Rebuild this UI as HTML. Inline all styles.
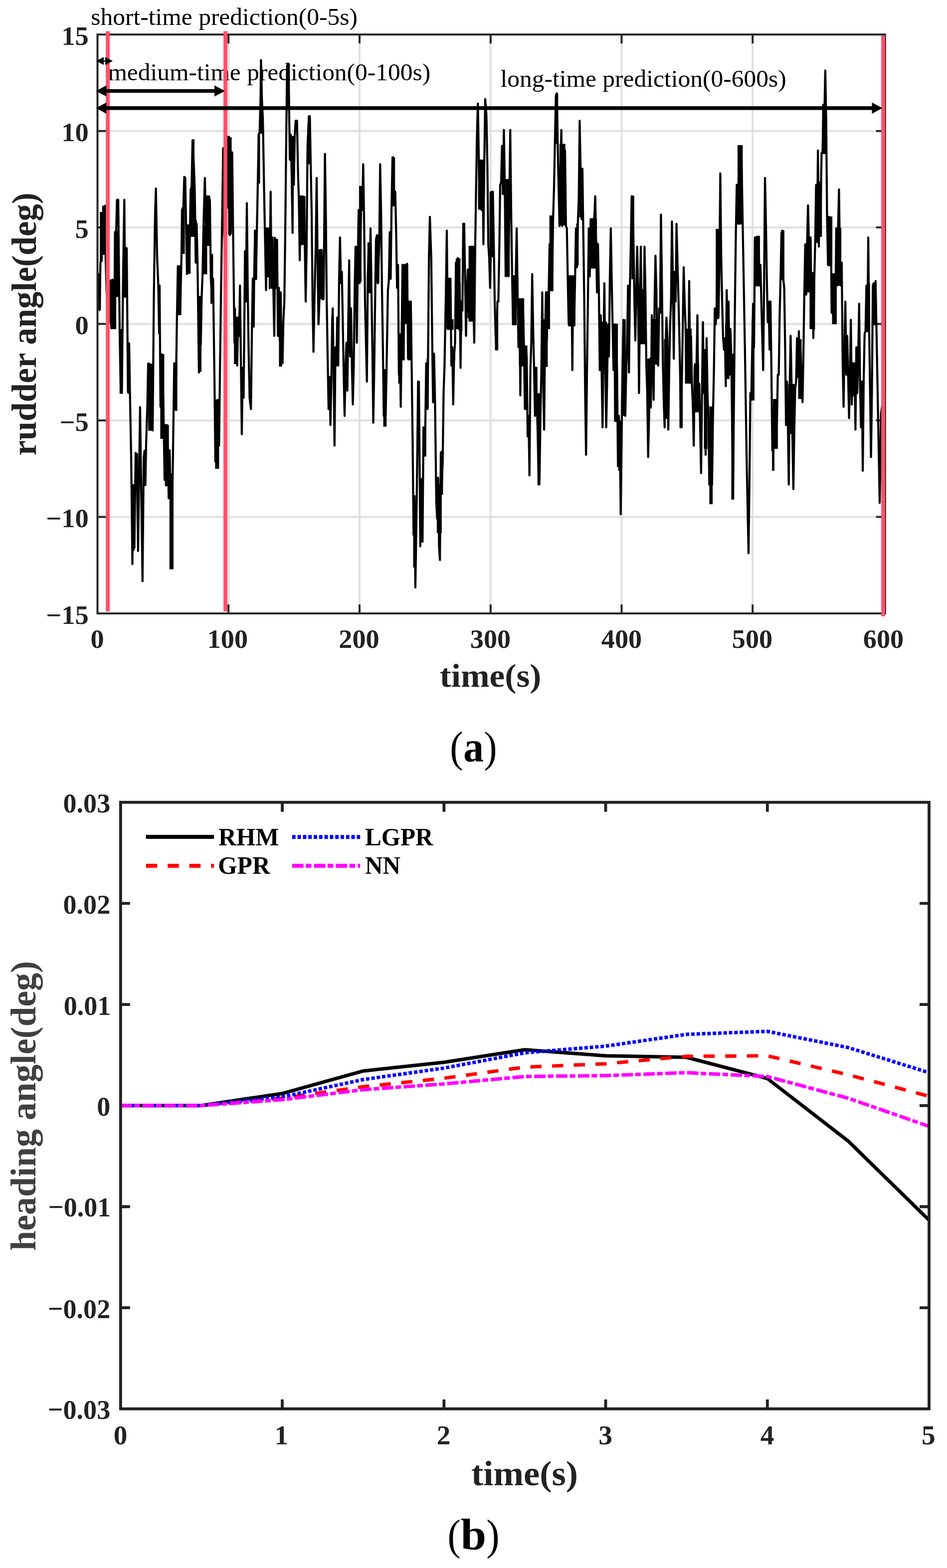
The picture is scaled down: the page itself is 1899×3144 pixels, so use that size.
<!DOCTYPE html>
<html><head><meta charset="utf-8"><title>figure</title>
<style>html,body{margin:0;padding:0;background:#fff;width:1899px;height:3144px;overflow:hidden;}svg{display:block;}</style>
</head><body>
<svg width="1899" height="3144" viewBox="0 0 1899 3144">
<rect width="1899" height="3144" fill="#fff"/>
<path d="M458.2 69.2V1230M721.0 69.2V1230M983.8 69.2V1230M1246.5 69.2V1230M1509.2 69.2V1230M195.5 1036.5H1774.8M195.5 843.1H1774.8M195.5 649.6H1774.8M195.5 456.1H1774.8M195.5 262.7H1774.8" stroke="#e0e0e0" stroke-width="4" fill="none"/>
<path d="M458.2 1230v-18M458.2 69.2v18M721.0 1230v-18M721.0 69.2v18M983.8 1230v-18M983.8 69.2v18M1246.5 1230v-18M1246.5 69.2v18M1509.2 1230v-18M1509.2 69.2v18M195.5 1036.5h18M1774.8 1036.5h-18M195.5 843.1h18M1774.8 843.1h-18M195.5 649.6h18M1774.8 649.6h-18M195.5 456.1h18M1774.8 456.1h-18M195.5 262.7h18M1774.8 262.7h-18" stroke="#262626" stroke-width="4" fill="none"/>
<text transform="translate(0.16,0.41) scale(0.9900,0.9820) translate(184.00,50.50)" style="font-family:'Liberation Serif','Times New Roman',serif;font-size:50px" fill="#000">short-time prediction(0-5s)</text>
<text transform="translate(1.80,3.39) scale(0.9890,0.9820) translate(217.00,160.50)" style="font-family:'Liberation Serif','Times New Roman',serif;font-size:50px" fill="#000">medium-time prediction(0-100s)</text>
<text transform="translate(9.55,3.14) scale(0.9900,0.9820) translate(1004.00,174.40)" style="font-family:'Liberation Serif','Times New Roman',serif;font-size:50px" fill="#000">long-time prediction(0-600s)</text>
<polyline points="196.5,619.6 198.1,550.6 199.7,621.6 201.4,526.3 203.8,522.2 204.6,428.9 207.0,424.8 208.7,414.7 211.1,412.6 211.9,514.1 213.5,579.0 216.0,635.8 219.2,648.0 220.8,562.8 223.3,658.2 225.7,560.8 228.1,658.2 229.8,587.1 230.6,465.4 233.0,463.4 234.6,400.5 237.1,400.5 238.7,554.7 240.3,688.6 241.9,769.8 244.4,788.0 246.8,554.7 249.3,400.5 250.9,595.3 252.5,497.9 254.1,497.9 256.6,786.0 259.0,688.6 260.6,790.1 263.1,919.9 265.5,1131.0 267.1,972.7 269.5,1098.5 272.0,907.8 274.4,915.9 276.9,1104.6 278.5,980.8 280.9,816.4 283.3,993.0 285.8,1165.5 288.2,919.9 289.8,903.7 291.5,972.7 293.1,887.5 295.5,814.4 297.1,729.2 299.6,729.2 301.2,814.4 303.6,765.7 306.1,863.1 308.5,595.3 310.9,432.9 312.6,378.1 315.0,514.1 317.4,570.9 319.1,668.3 320.0,572.5 321.8,815.6 323.7,710.1 325.5,861.5 327.3,792.7 330.1,962.4 331.9,852.3 334.7,852.3 336.5,902.8 338.3,999.1 340.2,902.8 342.0,999.1 343.9,1100.0 345.7,994.5 349.4,728.4 352.1,820.2 354.9,632.1 356.7,533.5 359.4,535.8 361.3,627.5 364.0,508.3 365.0,421.1 367.7,416.5 369.5,354.6 371.4,356.9 373.2,453.2 375.0,549.5 376.9,453.2 378.7,535.8 380.6,476.1 382.4,379.8 384.2,375.2 386.1,281.2 388.8,331.7 390.6,384.4 392.5,526.6 394.3,448.6 396.1,526.6 398.9,746.8 400.7,595.4 402.6,691.7 404.4,595.4 406.2,549.5 408.1,453.2 410.8,356.9 413.6,489.9 415.4,393.6 417.2,489.9 419.1,393.6 420.9,402.8 422.8,558.7 425.5,604.6 427.3,558.7 430.1,765.1 431.9,925.7 434.7,898.2 436.5,801.8 439.3,893.6 441.1,742.2 442.9,604.6 445.7,421.1 447.5,297.2 449.4,467.0 451.2,512.8 453.0,411.9 455.5,274.3 457.3,416.5 459.2,274.3 461.0,471.6 462.8,457.8 463.8,304.1 465.6,306.4 467.4,467.0 469.3,618.3 470.2,687.2 471.1,618.3 472.0,714.7 473.9,636.7 475.7,733.0 477.5,636.7 479.4,673.4 481.2,572.5 483.0,719.3 484.9,870.6 486.7,737.6 488.5,797.2 490.4,604.6 491.3,503.7 493.1,604.6 495.0,407.3 496.8,581.7 498.6,705.5 500.5,797.2 503.2,820.2 505.0,673.4 506.9,558.7 508.7,655.0 509.6,558.7 511.5,462.4 513.3,558.7 515.1,462.4 517.0,366.1 518.8,269.7 520.6,265.1 522.5,198.6 523.4,120.6 525.2,200.9 527.1,237.6 529.8,393.6 531.7,489.9 533.5,581.7 535.3,457.8 537.2,554.1 539.0,457.8 540.8,540.4 542.7,384.4 544.5,577.1 546.3,476.1 548.2,577.1 550.0,673.4 551.8,480.7 553.7,577.1 555.5,480.7 557.3,673.4 559.2,577.1 561.0,682.6 562.8,586.2 564.7,723.9 566.5,728.4 568.3,641.3 570.2,604.6 572.0,467.0 573.9,283.5 575.7,132.1 577.5,127.5 579.4,196.3 581.2,320.2 583.0,269.7 584.9,352.3 586.7,467.0 587.3,274.3 589.2,370.6 591.0,274.3 592.8,242.2 595.6,242.2 597.4,338.5 599.3,402.8 601.1,522.0 602.9,393.6 604.8,489.9 606.6,393.6 609.4,398.2 611.2,489.9 613.0,604.6 614.9,489.9 616.7,292.7 619.4,233.0 621.3,233.0 623.1,329.4 625.0,430.3 626.8,604.6 628.6,705.5 630.5,604.6 633.2,489.9 635.0,356.9 636.9,526.6 638.7,650.5 640.6,600.0 642.4,501.4 645.1,501.4 647.0,600.0 648.8,600.0 650.6,421.1 651.6,308.7 653.4,430.3 655.2,604.6 657.1,719.3 658.9,820.2 660.7,756.0 662.6,852.3 664.4,765.1 666.2,641.3 667.2,618.3 669.0,742.2 670.8,893.6 672.7,696.3 674.5,733.0 676.3,636.7 678.2,733.0 680.0,558.7 681.8,476.1 683.7,567.9 685.5,545.0 687.3,641.3 689.2,746.8 691.0,833.9 692.8,742.2 694.7,687.2 696.5,783.5 698.3,650.5 700.2,522.0 702.0,714.7 703.9,618.3 705.7,733.0 707.5,811.0 709.4,733.0 711.2,581.7 713.0,494.5 713.7,494.5 715.5,687.2 717.3,535.8 719.2,421.1 721.0,567.9 722.8,503.7 724.7,375.2 726.5,421.1 728.3,329.4 730.2,448.6 732.0,604.6 733.9,687.2 735.7,765.1 737.5,558.7 739.4,489.9 741.2,586.2 743.0,457.8 744.9,581.7 746.7,696.3 748.5,847.7 750.4,742.2 752.2,604.6 754.0,480.7 755.9,471.6 757.7,567.9 760.5,489.9 762.3,329.4 764.1,421.1 766.0,581.7 767.8,696.3 769.6,833.9 771.5,742.2 773.3,833.9 775.1,742.2 777.9,581.7 779.7,563.3 781.6,467.0 783.4,558.7 785.2,411.9 787.1,315.6 788.9,315.6 790.7,411.9 792.6,384.4 794.4,467.0 796.2,577.1 798.1,531.2 799.9,751.4 801.7,673.4 803.6,815.6 805.4,673.4 807.2,531.2 809.1,719.3 810.9,531.2 812.8,613.8 814.6,531.2 816.4,528.9 818.3,719.3 820.1,604.6 821.9,719.3 823.8,604.6 825.6,742.2 827.4,879.8 829.3,1072.5 831.1,994.5 832.9,1178.0 834.8,1063.3 836.6,925.7 838.4,765.1 840.0,765.1 842.8,1095.4 845.5,994.5 847.3,1086.2 849.2,856.9 851.0,911.9 852.8,856.9 854.7,728.4 857.4,820.2 860.2,512.8 862.0,434.9 864.8,517.4 866.6,673.4 868.4,806.4 870.3,710.1 872.1,788.1 874.9,1008.3 876.7,1040.4 878.5,957.8 880.4,1095.4 882.2,1122.9 884.0,907.3 885.9,971.6 887.7,925.7 889.5,788.1 891.4,733.0 894.1,586.2 896.0,462.4 897.8,659.6 899.6,558.7 901.5,655.0 903.3,558.7 905.1,733.0 907.0,696.3 908.8,811.0 910.6,714.7 912.5,687.2 914.3,526.6 916.1,622.9 918.0,517.4 919.8,659.6 921.7,567.9 923.5,737.6 925.3,604.6 927.2,622.9 929.0,448.6 930.8,448.6 932.7,558.7 934.5,673.4 936.3,586.2 938.2,540.4 940.0,636.7 941.8,540.4 943.7,604.6 945.5,494.5 947.3,494.5 949.2,595.4 951.0,687.2 952.8,503.7 954.7,375.2 956.5,269.7 958.3,207.8 960.2,320.2 962.0,416.5 963.9,322.5 965.7,421.1 967.5,324.8 969.4,489.9 971.2,320.2 973.0,198.6 975.5,233.0 977.3,329.4 979.2,489.9 981.0,517.4 982.8,577.1 984.7,480.7 986.5,384.4 988.3,384.4 990.2,489.9 992.0,604.6 993.9,673.4 995.7,700.9 997.5,604.6 999.4,604.6 1001.2,503.7 1003.0,370.6 1004.9,366.1 1006.7,292.7 1008.5,389.0 1010.4,260.6 1012.2,366.1 1014.0,554.1 1015.9,499.1 1017.7,361.5 1019.5,554.1 1021.4,393.6 1023.2,260.6 1025.0,421.1 1026.9,549.5 1028.7,650.5 1030.6,554.1 1032.4,650.5 1034.2,554.1 1036.1,457.8 1037.9,586.2 1039.7,696.3 1041.6,600.0 1043.4,792.7 1045.2,600.0 1047.1,733.0 1048.9,622.9 1050.7,696.3 1052.6,820.2 1054.4,696.3 1056.2,714.7 1058.1,875.2 1059.9,833.9 1061.7,953.2 1063.6,742.2 1065.4,687.2 1067.2,549.5 1069.1,659.6 1070.9,733.0 1072.8,833.9 1074.6,737.6 1076.4,801.8 1078.3,870.6 1080.1,971.6 1081.9,957.8 1083.8,833.9 1085.6,742.2 1087.4,586.2 1089.3,760.6 1091.1,861.5 1092.9,678.0 1094.8,586.2 1096.6,682.6 1098.4,586.2 1100.3,586.2 1102.1,489.9 1103.9,563.3 1105.8,434.9 1107.3,558.7 1109.2,434.9 1111.0,375.2 1112.8,283.5 1114.7,191.7 1116.5,187.2 1118.3,283.5 1120.2,375.2 1122.0,453.2 1123.9,329.4 1125.7,260.6 1127.5,453.2 1129.4,375.2 1131.2,444.0 1133.0,301.8 1134.9,453.2 1136.7,457.8 1138.5,558.7 1140.4,650.5 1142.2,554.1 1144.0,650.5 1145.9,554.1 1147.7,742.2 1149.5,558.7 1151.4,650.5 1153.2,558.7 1155.0,457.8 1156.9,535.8 1158.7,448.6 1160.6,398.2 1162.4,242.2 1164.2,338.5 1166.1,439.4 1167.9,338.5 1169.7,467.0 1171.6,604.6 1173.4,788.1 1175.2,911.9 1177.1,742.2 1178.9,604.6 1180.7,457.8 1182.6,554.1 1184.4,439.4 1186.2,535.8 1188.1,439.4 1189.9,535.8 1191.7,439.4 1193.6,393.6 1195.4,489.9 1197.2,586.2 1199.1,489.9 1200.9,581.7 1202.8,742.2 1204.6,632.1 1206.4,742.2 1208.3,856.9 1210.1,696.3 1211.9,567.9 1213.8,733.0 1215.6,856.9 1217.4,765.1 1219.3,650.5 1221.1,714.7 1222.9,558.7 1224.8,457.8 1226.6,558.7 1228.4,650.5 1230.3,742.2 1232.1,650.5 1233.7,843.1 1235.5,650.5 1237.3,742.2 1239.2,934.9 1241.0,833.9 1242.8,879.8 1244.7,1031.2 1246.5,879.8 1248.3,742.2 1250.2,641.3 1252.0,788.1 1253.9,833.9 1255.7,742.2 1257.5,687.2 1259.4,572.5 1261.2,746.8 1263.0,581.7 1264.9,494.5 1266.7,393.6 1268.5,393.6 1270.4,489.9 1272.2,604.6 1274.0,682.6 1275.9,586.2 1277.7,494.5 1279.5,581.7 1281.4,788.1 1283.2,604.6 1285.0,494.5 1286.9,673.4 1288.7,581.7 1290.6,673.4 1292.4,494.5 1294.2,581.7 1296.1,733.0 1297.9,788.1 1299.7,916.5 1301.6,833.9 1303.4,719.3 1305.2,815.6 1307.1,632.1 1308.9,723.9 1310.7,801.8 1312.6,604.6 1314.4,512.8 1316.2,581.7 1318.1,705.5 1319.9,733.0 1321.7,618.3 1323.6,627.5 1325.4,430.3 1327.2,558.7 1329.1,719.3 1330.9,801.8 1332.8,856.9 1334.6,696.3 1336.4,636.7 1338.3,678.0 1340.1,861.5 1341.9,742.2 1343.8,650.5 1345.6,604.6 1347.4,444.0 1349.3,558.7 1351.1,719.3 1352.9,545.0 1354.8,604.6 1356.6,448.6 1361.8,650.5 1363.7,742.2 1365.5,856.9 1367.3,765.1 1369.2,650.5 1371.0,535.8 1372.8,604.6 1374.7,650.5 1376.5,756.0 1378.3,673.4 1380.2,756.0 1382.0,563.3 1383.9,742.2 1385.7,673.4 1387.5,769.7 1389.4,815.6 1391.2,893.6 1393.0,733.0 1394.9,824.8 1396.7,733.0 1398.5,632.1 1400.4,824.8 1402.2,769.7 1404.0,856.9 1405.9,948.6 1407.7,788.1 1409.5,645.9 1411.4,788.1 1413.2,742.2 1415.0,911.9 1416.9,678.0 1418.7,788.1 1420.6,843.1 1422.4,971.6 1424.2,879.8 1426.1,824.8 1427.9,971.6 1429.7,833.9 1431.6,742.2 1433.4,618.3 1435.2,650.5 1437.1,613.8 1438.9,462.4 1440.7,636.7 1442.6,535.8 1444.4,347.7 1446.2,512.8 1448.1,604.6 1449.9,673.4 1451.7,700.9 1453.6,678.0 1455.4,774.3 1457.2,581.7 1459.1,673.4 1460.9,604.6 1462.8,751.4 1464.6,659.6 1466.4,710.1 1468.3,866.1 1470.1,967.0 1471.9,788.1 1473.8,604.6 1475.6,467.0 1477.4,370.6 1479.3,448.6 1481.1,352.3 1482.9,448.6 1484.8,292.7 1486.6,297.2 1493.7,696.3 1497.3,925.7 1501.0,1109.2 1502.8,971.6 1504.7,788.1 1506.5,801.8 1508.3,705.5 1510.2,609.2 1512.0,696.3 1513.9,476.1 1515.7,572.5 1517.5,476.1 1519.4,572.5 1521.2,476.1 1523.0,572.5 1524.9,531.2 1526.7,604.6 1528.5,673.4 1530.4,742.2 1532.2,572.5 1534.0,356.9 1535.9,448.6 1537.7,558.7 1539.5,645.9 1541.4,604.6 1543.2,700.9 1545.0,604.6 1546.9,742.2 1548.7,902.8 1550.6,907.3 1552.4,806.4 1554.2,879.8 1556.1,801.8 1557.9,852.3 1559.7,751.4 1561.6,751.4 1563.4,632.1 1565.2,558.7 1567.1,467.0 1568.9,462.4 1570.7,558.7 1572.6,577.1 1574.4,696.3 1576.2,852.3 1578.1,765.1 1579.9,843.1 1581.7,971.6 1583.6,778.9 1585.4,673.4 1587.2,765.1 1589.1,879.8 1590.9,980.7 1592.8,861.5 1594.6,778.9 1596.4,765.1 1598.3,678.0 1600.1,756.0 1601.9,664.2 1603.8,751.4 1605.6,705.5 1607.4,778.9 1609.3,806.4 1611.1,705.5 1612.9,586.2 1614.8,489.9 1616.6,590.8 1618.4,489.9 1620.3,411.9 1621.8,476.1 1623.7,572.5 1625.5,476.1 1627.3,650.5 1629.2,549.5 1631.0,678.0 1632.8,563.3 1634.7,485.3 1636.5,370.6 1638.3,485.3 1640.2,301.8 1642.0,494.5 1643.9,366.1 1645.7,407.3 1647.5,306.4 1649.4,306.4 1651.2,210.1 1653.0,237.6 1654.9,141.3 1656.7,237.6 1658.5,434.9 1660.4,531.2 1662.2,434.9 1664.0,531.2 1665.9,439.4 1667.7,627.5 1669.5,554.1 1671.4,645.9 1673.2,554.1 1675.0,645.9 1676.9,457.8 1678.7,572.5 1680.6,457.8 1682.4,379.8 1684.2,512.8 1686.1,572.5 1687.9,526.6 1689.7,719.3 1691.6,815.6 1693.4,696.3 1695.2,604.6 1697.1,751.4 1698.9,673.4 1700.7,751.4 1702.6,838.5 1704.4,751.4 1706.2,641.3 1708.1,811.0 1709.9,728.4 1711.7,792.7 1713.6,728.4 1715.4,861.5 1717.2,696.3 1719.1,788.1 1720.9,719.3 1722.8,609.2 1724.6,765.1 1726.4,856.9 1728.3,765.1 1730.1,944.0 1731.9,765.1 1733.8,668.8 1735.6,664.2 1737.4,572.5 1739.3,664.2 1741.1,476.1 1742.9,664.2 1744.8,788.1 1746.6,916.5 1748.4,788.1 1750.3,572.5 1752.1,567.9 1753.9,650.5 1755.8,563.3 1764.0,1008.3 1766.8,829.4 1770.5,801.8" fill="none" stroke="#000" stroke-width="4.2" stroke-linejoin="round"/><path d="M196.9 547.7H202.4V620.5H196.9ZM200.2 425.0H205.8V525.0H200.2ZM204.8 412.5H210.4V511.0H204.8ZM221.9 560.0H233.1V660.0H221.9ZM229.2 463.6H237.3V595.5H229.2ZM247.3 495.5H254.4V595.5H247.3ZM356.3 532.0H363.5V632.0H356.3ZM364.1 416.0H370.6V509.0H364.1ZM368.1 354.5H372.9V418.0H368.1ZM373.8 450.0H382.2V549.0H373.8ZM381.6 375.0H390.2V475.0H381.6ZM385.3 279.5H390.0V377.0H385.3ZM390.9 441.0H394.8V525.0H390.9ZM406.7 452.0H415.4V550.0H406.7ZM412.2 393.0H420.1V493.0H412.2ZM421.9 509.0H427.4V609.0H421.9ZM457.5 275.0H464.5V470.0H457.5ZM239.8 660.0H245.5V789.6H239.8ZM255.7 690.0H259.7V789.6H255.7ZM264.1 1005.0H269.8V1104.4H264.1ZM271.1 909.0H276.8V947.0H271.1ZM297.2 729.4H306.1V863.7H297.2ZM321.4 709.8H329.4V880.0H321.4ZM330.7 852.0H338.7V975.0H330.7ZM339.8 949.0H347.9V1141.5H339.8ZM350.8 727.0H355.6V824.0H350.8ZM398.3 660.0H404.0V745.6H398.3ZM431.4 801.0H439.4V940.0H431.4ZM460.9 302.0H464.8V468.0H460.9ZM489.6 504.5H495.2V600.0H489.6ZM509.1 461.4H515.4V561.4H509.1ZM516.7 268.0H521.5V368.0H516.7ZM521.4 200.0H527.0V268.0H521.4ZM538.8 470.0H542.2V580.0H538.8ZM548.9 475.0H553.1V575.0H548.9ZM575.0 127.0H581.3V218.0H575.0ZM583.5 280.0H590.5V365.0H583.5ZM603.0 393.0H612.5V491.0H603.0ZM617.8 234.0H622.6V329.5H617.8ZM639.0 500.0H646.9V600.0H639.0ZM720.1 372.7H724.9V566.0H720.1ZM469.2 645.0H474.8V730.0H469.2ZM559.4 645.0H565.6V735.0H559.4ZM736.9 486.0H742.4V586.0H736.9ZM755.1 470.5H760.6V568.0H755.1ZM785.9 316.0H792.2V413.6H785.9ZM779.9 463.6H784.7V561.0H779.9ZM809.8 530.0H818.2V650.0H809.8ZM895.3 561.0H903.3V660.0H895.3ZM913.9 518.0H923.4V660.0H913.9ZM939.6 493.0H952.2V645.0H939.6ZM958.6 320.0H970.6V420.5H958.6ZM981.7 384.0H989.7V516.0H981.7ZM768.6 759.8H775.2V855.6H768.6ZM798.5 668.7H805.1V769.3H798.5ZM806.5 640.0H811.5V722.6H806.5ZM817.5 640.0H823.3V722.6H817.5ZM828.5 1035.0H835.1V1138.0H828.5ZM841.7 958.6H848.3V1054.4H841.7ZM850.7 858.0H854.8V915.5H850.7ZM855.5 719.0H859.6V818.4H855.5ZM867.4 707.0H871.6V807.7H867.4ZM875.9 970.5H885.8V1068.7H875.9ZM884.2 903.5H888.4V992.0H884.2ZM897.8 640.0H909.5V661.6H897.8ZM906.3 712.0H912.9V722.6H906.3ZM920.7 640.0H927.3V664.0H920.7ZM992.5 640.0H999.2V702.3H992.5ZM1006.7 293.0H1011.5V391.0H1006.7ZM1014.2 359.0H1022.2V554.5H1014.2ZM1028.8 552.0H1036.0V652.0H1028.8ZM1040.8 598.0H1051.2V660.0H1040.8ZM1095.8 584.0H1103.0V660.0H1095.8ZM1101.7 432.0H1109.7V584.0H1101.7ZM1113.7 188.6H1119.3V288.6H1113.7ZM1121.9 288.6H1133.8V452.0H1121.9ZM1139.5 552.0H1153.7V654.5H1139.5ZM1155.5 448.0H1160.4V532.0H1155.5ZM1161.6 336.0H1167.9V436.0H1161.6ZM1183.6 438.6H1197.1V538.6H1183.6ZM1196.2 486.0H1199.3V588.6H1196.2ZM1266.2 393.0H1271.8V560.0H1266.2ZM1028.8 640.0H1034.7V649.6H1028.8ZM1040.7 640.0H1051.6V733.4H1040.7ZM1052.6 692.7H1057.6V822.0H1052.6ZM1072.0 735.8H1077.7V834.0H1072.0ZM1077.9 788.5H1083.7V973.0H1077.9ZM1088.4 640.0H1098.4V735.8H1088.4ZM1143.1 640.0H1151.5V652.0H1143.1ZM1204.7 645.0H1217.3V740.0H1204.7ZM1231.6 649.6H1239.1V846.0H1231.6ZM1239.8 843.6H1246.5V944.0H1239.8ZM1248.2 640.0H1254.8V834.0H1248.2ZM1278.6 592.0H1290.4V660.0H1278.6ZM1435.3 459.0H1441.4V640.0H1435.3ZM1479.0 291.0H1489.4V450.0H1479.0ZM1516.0 472.7H1524.0V572.7H1516.0ZM1282.1 640.0H1293.8V690.3H1282.1ZM1298.1 719.0H1306.5V819.6H1298.1ZM1308.5 640.0H1320.2V731.0H1308.5ZM1331.5 680.0H1338.5V840.0H1331.5ZM1362.5 755.0H1369.1V858.0H1362.5ZM1373.5 659.0H1386.9V769.3H1373.5ZM1392.0 728.6H1401.8V826.8H1392.0ZM1411.5 700.0H1418.5V900.0H1411.5ZM1422.4 815.0H1429.1V1011.0H1422.4ZM1454.0 650.0H1463.0V760.0H1454.0ZM1466.5 709.5H1472.3V1001.7H1466.5ZM1507.3 640.0H1513.0V803.0H1507.3ZM1566.6 461.4H1572.9V561.4H1566.6ZM1612.9 491.0H1623.3V586.4H1612.9ZM1623.4 545.5H1634.4V660.0H1623.4ZM1637.9 370.5H1648.3V475.0H1637.9ZM1648.7 209.0H1656.7V309.0H1648.7ZM1660.3 434.0H1669.1V534.0H1660.3ZM1668.5 548.0H1677.9V650.0H1668.5ZM1678.5 457.0H1687.1V573.0H1678.5ZM1738.2 568.0H1744.6V660.0H1738.2ZM1550.1 800.0H1559.9V900.0H1550.1ZM1548.1 900.0H1552.9V944.0H1548.1ZM1580.7 770.0H1593.3V870.0H1580.7ZM1600.5 680.0H1607.5V800.0H1600.5Z" fill="#000"/>
<rect x="195.5" y="69.2" width="1579.3" height="1160.8" fill="none" stroke="#262626" stroke-width="4"/>
<path d="M216.1 62.4V1226M452 62.4V1226M1771 71V1235.7" stroke="#fe506c" stroke-width="7.8" fill="none"/>
<path d="M207 122.2H212" stroke="#000" stroke-width="2.5"/><path d="M193 122.2L208 114.2V130.2ZM226 122.2L211 114.2V130.2Z" fill="#000"/>
<path d="M212.4 182.4H431" stroke="#000" stroke-width="7.4"/><path d="M192.4 182.4L213.4 171.20000000000002V193.6ZM451 182.4L430 171.20000000000002V193.6Z" fill="#000"/>
<path d="M212.4 216.8H1749.5" stroke="#000" stroke-width="7.4"/><path d="M192.4 216.8L213.4 205.60000000000002V228.0ZM1769.5 216.8L1748.5 205.60000000000002V228.0Z" fill="#000"/>
<path d="M566.0 2824.9v-19M566.0 1608.7v19M890.3 2824.9v-19M890.3 1608.7v19M1214.5 2824.9v-19M1214.5 1608.7v19M1538.8 2824.9v-19M1538.8 1608.7v19M241.8 2622.2h19M1863 2622.2h-19M241.8 2419.5h19M1863 2419.5h-19M241.8 2216.8h19M1863 2216.8h-19M241.8 2014.1h19M1863 2014.1h-19M241.8 1811.4h19M1863 1811.4h-19" stroke="#212121" stroke-width="5.8" fill="none"/>
<polyline points="241.8,2216.8 403.9,2216.8 566.0,2192.5 728.2,2147.4 890.3,2130.0 1052.4,2104.7 1214.5,2117.0 1376.6,2120.0 1538.8,2162.6 1700.9,2288.0 1863.0,2446.5" fill="none" stroke="#000" stroke-width="7"/>
<polyline points="241.8,2216.8 403.9,2216.8 566.0,2202.0 728.2,2179.0 890.3,2162.0 1052.4,2139.6 1214.5,2133.0 1376.6,2118.0 1538.8,2117.0 1700.9,2155.0 1863.0,2198.0" fill="none" stroke="#ff0000" stroke-width="7" stroke-dasharray="22.5 21"/>
<polyline points="241.8,2216.8 403.9,2216.8 566.0,2199.4 728.2,2164.7 890.3,2141.6 1052.4,2111.0 1214.5,2097.6 1376.6,2074.0 1538.8,2068.0 1700.9,2100.5 1863.0,2150.8" fill="none" stroke="#0000ff" stroke-width="7" stroke-dasharray="6.9 3.9"/>
<polyline points="241.8,2216.8 403.9,2216.8 566.0,2205.0 728.2,2185.0 890.3,2173.4 1052.4,2158.5 1214.5,2156.7 1376.6,2150.8 1538.8,2158.5 1700.9,2202.0 1863.0,2258.4" fill="none" stroke="#ff00ff" stroke-width="7" stroke-dasharray="22.9 4.4 11.4 5.1"/>
<rect x="241.8" y="1608.7" width="1621.2" height="1216.2" fill="none" stroke="#212121" stroke-width="5.8"/>
<path d="M292.7 1678H429" stroke="#000" stroke-width="8"/>
<path d="M292.7 1736H429" stroke="#ff0000" stroke-width="8" stroke-dasharray="22.5 21"/>
<path d="M585.8 1678.3H722.2" stroke="#0000ff" stroke-width="8" stroke-dasharray="6.9 3.9"/>
<path d="M585.8 1736H722.2" stroke="#ff00ff" stroke-width="8" stroke-dasharray="22.9 4.4 11.4 5.1"/>
<text transform="translate(-17.02,-47.24) scale(1.0845,1.0364) translate(195.50,1299.00)" text-anchor="middle" style="font-family:'Liberation Serif','Times New Roman',serif;font-weight:bold;font-size:50px" fill="#222">0</text>
<text transform="translate(-40.58,-47.24) scale(1.0845,1.0364) translate(458.25,1299.00)" text-anchor="middle" style="font-family:'Liberation Serif','Times New Roman',serif;font-weight:bold;font-size:50px" fill="#222">100</text>
<text transform="translate(-61.97,-47.24) scale(1.0845,1.0364) translate(721.00,1299.00)" text-anchor="middle" style="font-family:'Liberation Serif','Times New Roman',serif;font-weight:bold;font-size:50px" fill="#222">200</text>
<text transform="translate(-83.36,-47.24) scale(1.0845,1.0364) translate(983.75,1299.00)" text-anchor="middle" style="font-family:'Liberation Serif','Times New Roman',serif;font-weight:bold;font-size:50px" fill="#222">300</text>
<text transform="translate(-105.30,-47.24) scale(1.0845,1.0364) translate(1246.50,1299.00)" text-anchor="middle" style="font-family:'Liberation Serif','Times New Roman',serif;font-weight:bold;font-size:50px" fill="#222">400</text>
<text transform="translate(-128.31,-47.24) scale(1.0845,1.0364) translate(1509.25,1299.00)" text-anchor="middle" style="font-family:'Liberation Serif','Times New Roman',serif;font-weight:bold;font-size:50px" fill="#222">500</text>
<text transform="translate(-150.25,-47.24) scale(1.0845,1.0364) translate(1772.00,1299.00)" text-anchor="middle" style="font-family:'Liberation Serif','Times New Roman',serif;font-weight:bold;font-size:50px" fill="#222">600</text>
<text transform="translate(-14.22,-53.23) scale(1.0909,1.0455) translate(176.00,1247.00)" text-anchor="end" style="font-family:'Liberation Serif','Times New Roman',serif;font-weight:bold;font-size:50px" fill="#222">−15</text>
<text transform="translate(-14.22,-44.93) scale(1.0909,1.0455) translate(176.00,1053.53)" text-anchor="end" style="font-family:'Liberation Serif','Times New Roman',serif;font-weight:bold;font-size:50px" fill="#222">−10</text>
<text transform="translate(-14.22,-35.57) scale(1.0909,1.0455) translate(176.00,860.07)" text-anchor="end" style="font-family:'Liberation Serif','Times New Roman',serif;font-weight:bold;font-size:50px" fill="#222">−5</text>
<text transform="translate(-14.22,-27.27) scale(1.0909,1.0455) translate(176.00,666.60)" text-anchor="end" style="font-family:'Liberation Serif','Times New Roman',serif;font-weight:bold;font-size:50px" fill="#222">0</text>
<text transform="translate(-14.22,-17.92) scale(1.0909,1.0455) translate(176.00,473.13)" text-anchor="end" style="font-family:'Liberation Serif','Times New Roman',serif;font-weight:bold;font-size:50px" fill="#222">5</text>
<text transform="translate(-14.22,-9.61) scale(1.0909,1.0455) translate(176.00,279.67)" text-anchor="end" style="font-family:'Liberation Serif','Times New Roman',serif;font-weight:bold;font-size:50px" fill="#222">10</text>
<text transform="translate(-14.22,-0.26) scale(1.0909,1.0455) translate(176.00,86.20)" text-anchor="end" style="font-family:'Liberation Serif','Times New Roman',serif;font-weight:bold;font-size:50px" fill="#222">15</text>
<text transform="translate(-79.16,-53.35) scale(1.0816,1.0386) translate(982.50,1377.00)" text-anchor="middle" style="font-family:'Liberation Serif','Times New Roman',serif;font-weight:bold;font-size:64px" fill="#222">time(s)</text>
<text transform="translate(-0.53,-6.89) scale(1.0131,1.0104) translate(72.00,650.00) rotate(-90)" text-anchor="middle" style="font-family:'Liberation Serif','Times New Roman',serif;font-weight:bold;font-size:68px" fill="#222">rudder angle(deg)</text>
<text transform="translate(107.36,72.53) scale(0.8783,0.9524) translate(905.00,1527.00)" style="font-family:'Liberation Serif','Times New Roman',serif;font-size:90px" fill="#000">(</text>
<text transform="translate(87.65,67.47) scale(0.9049,0.9558) translate(930.00,1527.00)" style="font-family:'Liberation Serif','Times New Roman',serif;font-weight:bold;font-size:90px" fill="#000">a</text>
<text transform="translate(125.27,72.53) scale(0.8696,0.9524) translate(972.00,1527.00)" style="font-family:'Liberation Serif','Times New Roman',serif;font-size:90px" fill="#000">)</text>
<text transform="translate(-25.60,-298.98) scale(1.1048,1.1030) translate(241.80,2896.50)" text-anchor="middle" style="font-family:'Liberation Serif','Times New Roman',serif;font-weight:bold;font-size:50px" fill="#222">0</text>
<text transform="translate(-60.96,-298.98) scale(1.1048,1.1030) translate(566.04,2896.50)" text-anchor="middle" style="font-family:'Liberation Serif','Times New Roman',serif;font-weight:bold;font-size:50px" fill="#222">1</text>
<text transform="translate(-94.11,-298.98) scale(1.1048,1.1030) translate(890.28,2896.50)" text-anchor="middle" style="font-family:'Liberation Serif','Times New Roman',serif;font-weight:bold;font-size:50px" fill="#222">2</text>
<text transform="translate(-127.81,-298.98) scale(1.1048,1.1030) translate(1214.52,2896.50)" text-anchor="middle" style="font-family:'Liberation Serif','Times New Roman',serif;font-weight:bold;font-size:50px" fill="#222">3</text>
<text transform="translate(-161.52,-298.98) scale(1.1048,1.1030) translate(1538.76,2896.50)" text-anchor="middle" style="font-family:'Liberation Serif','Times New Roman',serif;font-weight:bold;font-size:50px" fill="#222">4</text>
<text transform="translate(-196.32,-298.98) scale(1.1048,1.1030) translate(1863.00,2896.50)" text-anchor="middle" style="font-family:'Liberation Serif','Times New Roman',serif;font-weight:bold;font-size:50px" fill="#222">5</text>
<text transform="translate(-15.59,-332.52) scale(1.0811,1.1182) translate(219.00,2841.90)" text-anchor="end" style="font-family:'Liberation Serif','Times New Roman',serif;font-weight:bold;font-size:50px" fill="#222">−0.03</text>
<text transform="translate(-15.59,-308.23) scale(1.0811,1.1182) translate(219.00,2639.20)" text-anchor="end" style="font-family:'Liberation Serif','Times New Roman',serif;font-weight:bold;font-size:50px" fill="#222">−0.02</text>
<text transform="translate(-14.51,-285.06) scale(1.0811,1.1182) translate(219.00,2436.50)" text-anchor="end" style="font-family:'Liberation Serif','Times New Roman',serif;font-weight:bold;font-size:50px" fill="#222">−0.01</text>
<text transform="translate(-15.59,-260.77) scale(1.0811,1.1182) translate(219.00,2233.80)" text-anchor="end" style="font-family:'Liberation Serif','Times New Roman',serif;font-weight:bold;font-size:50px" fill="#222">0</text>
<text transform="translate(-14.51,-236.48) scale(1.0811,1.1182) translate(219.00,2031.10)" text-anchor="end" style="font-family:'Liberation Serif','Times New Roman',serif;font-weight:bold;font-size:50px" fill="#222">0.01</text>
<text transform="translate(-15.59,-212.19) scale(1.0811,1.1182) translate(219.00,1828.40)" text-anchor="end" style="font-family:'Liberation Serif','Times New Roman',serif;font-weight:bold;font-size:50px" fill="#222">0.02</text>
<text transform="translate(-15.59,-189.01) scale(1.0811,1.1182) translate(219.00,1625.70)" text-anchor="end" style="font-family:'Liberation Serif','Times New Roman',serif;font-weight:bold;font-size:50px" fill="#222">0.03</text>
<text transform="translate(-142.38,-303.95) scale(1.1364,1.1018) translate(1051.00,2979.00)" text-anchor="middle" style="font-family:'Liberation Serif','Times New Roman',serif;font-weight:bold;font-size:64px" fill="#222">time(s)</text>
<text transform="translate(-3.42,-127.60) scale(1.0508,1.0572) translate(71.00,2218.00) rotate(-90)" text-anchor="middle" style="font-family:'Liberation Serif','Times New Roman',serif;font-weight:bold;font-size:68px" fill="#404040">heading angle(deg)</text>
<text transform="translate(110.88,147.68) scale(0.8739,0.9524) translate(900.00,3107.00)" style="font-family:'Liberation Serif','Times New Roman',serif;font-size:90px" fill="#000">(</text>
<text transform="translate(-24.87,53.22) scale(1.0267,0.9828) translate(924.00,3107.00)" style="font-family:'Liberation Serif','Times New Roman',serif;font-weight:bold;font-size:90px" fill="#000">b</text>
<text transform="translate(117.20,147.68) scale(0.8783,0.9524) translate(977.00,3107.00)" style="font-family:'Liberation Serif','Times New Roman',serif;font-size:90px" fill="#000">)</text>
<text transform="translate(-6.64,-32.20) scale(1.0128,1.0187) translate(439.00,1695.60)" style="font-family:'Liberation Serif','Times New Roman',serif;font-weight:bold;font-size:49px" fill="#000">RHM</text>
<text transform="translate(-7.65,-32.85) scale(1.0128,1.0187) translate(439.00,1752.00)" style="font-family:'Liberation Serif','Times New Roman',serif;font-weight:bold;font-size:49px" fill="#000">GPR</text>
<text transform="translate(-3.19,-37.08) scale(1.0037,1.0219) translate(732.50,1695.00)" style="font-family:'Liberation Serif','Times New Roman',serif;font-weight:bold;font-size:49px" fill="#000">LGPR</text>
<text transform="translate(-3.19,-38.85) scale(1.0037,1.0219) translate(732.50,1752.50)" style="font-family:'Liberation Serif','Times New Roman',serif;font-weight:bold;font-size:49px" fill="#000">NN</text>
</svg>
</body></html>
